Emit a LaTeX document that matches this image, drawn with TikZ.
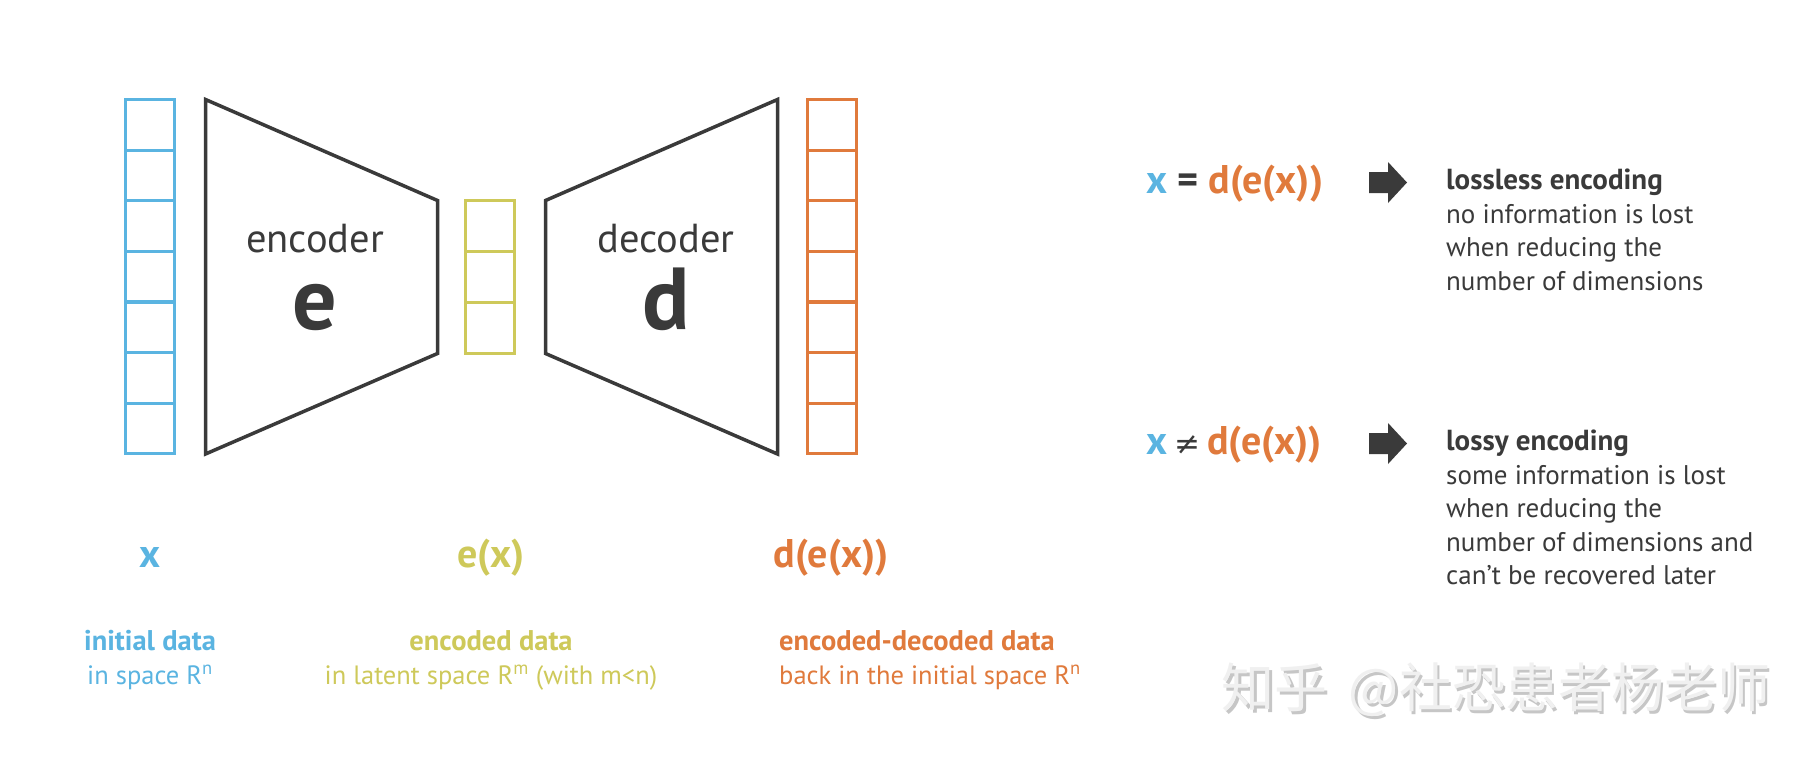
\documentclass[tikz,border=0pt]{standalone}
\usepackage{fontspec}
\setmainfont{PT Sans}
\newfontfamily\cjk{Noto Sans CJK SC}
\newfontfamily\djv{DejaVu Sans}
\definecolor{cblue}{HTML}{5AB4E1}
\definecolor{cyel}{HTML}{CEC95A}
\definecolor{corg}{HTML}{E07A3C}
\definecolor{cdark}{HTML}{3A3A3A}
\begin{document}
\begin{tikzpicture}[x=1pt,y=-1pt,
  cell/.style={draw=#1, line width=3pt, minimum width=49pt, minimum height=50.8pt, inner sep=0pt},
  trap/.style={draw=cdark, line width=3.5pt, line join=miter},
  lbl/.style={inner sep=0pt, anchor=base},
  lblw/.style={inner sep=0pt, anchor=base west},
  big/.style={font=\fontsize{40}{44}\selectfont\bfseries},
  sub/.style={font=\fontsize{28.5}{32}\selectfont\bfseries},
  subr/.style={font=\fontsize{26.5}{30}\selectfont},
  desc/.style={anchor=north west, inner sep=0pt, align=left, text=cdark, font=\fontsize{27}{33.5}\selectfont},
  blockarrow/.style={fill=cdark},
  ]
\fill[white] (0,0) rectangle (1815,764);
\useasboundingbox (0,0) rectangle (1815,764);

% columns
\foreach \i in {0,...,6} \node[cell=cblue] (b\i) at (150,{99.5+50.6*(\i+0.5)}) {};
\foreach \i in {0,...,2} \node[cell=cyel] (y\i) at (490,{200.5+51*(\i+0.5)}) {};
\foreach \i in {0,...,6} \node[cell=corg] (o\i) at (832,{99.5+50.6*(\i+0.5)}) {};

% encoder / decoder
\coordinate (e1) at (205.5,99.5);
\coordinate (e2) at (437.5,200.5);
\coordinate (e3) at (437.5,353.5);
\coordinate (e4) at (205.5,454);
\draw[trap] (e1) -- (e2) -- (e3) -- (e4) -- cycle;
\coordinate (d1) at (545.5,200.5);
\coordinate (d2) at (777.5,99.5);
\coordinate (d3) at (777.5,454);
\coordinate (d4) at (545.5,353.5);
\draw[trap] (d1) -- (d2) -- (d3) -- (d4) -- cycle;

\node[lbl, text=cdark, font=\fontsize{40.5}{44}\selectfont] (enct) at (315,252) {encoder};
\node[lbl, text=cdark, font=\fontsize{88}{90}\selectfont\bfseries] (encl) at (315,329) {e};
\node[lbl, text=cdark, font=\fontsize{40.5}{44}\selectfont] (dect) at (666,252) {decoder};
\node[lbl, text=cdark, font=\fontsize{88}{90}\selectfont\bfseries] (decl) at (666,329) {d};

% bottom labels
\node[lbl, big, text=cblue] (xl) at (150,567) {x};
\node[lbl, big, text=cyel] (exl) at (491,567) {e(x)};
\node[lbl, big, text=corg] (dexl) at (831,567) {d(e(x))};

\node[lbl, sub, text=cblue] (i1) at (150,650) {initial data};
\node[lbl, subr, text=cblue] (i2) at (150,684) {in space R\textsuperscript{n}};
\node[lbl, sub, text=cyel] (l1) at (491,650) {encoded data};
\node[lbl, subr, text=cyel] (l2) at (491,684) {in latent space R\textsuperscript{m} (with m<n)};
\node[lblw, sub, text=corg] (r1) at (779,650) {encoded-decoded data};
\node[lblw, subr, text=corg] (r2) at (779,684) {back in the initial space R\textsuperscript{n}};

% right side
\node[lblw, big] (eq1) at (1146,193) {\textcolor{cblue}{x} \textcolor{cdark}{=} \textcolor{corg}{d(e(x))}};
\node[lblw, big] (eq2) at (1146,454) {\textcolor{cblue}{x}\hspace{-0.08em} \textcolor{cdark}{\djv\mdseries\fontsize{31}{40}\selectfont ≠}\hspace{-0.08em} \textcolor{corg}{d(e(x))}};

\coordinate (a1) at (1369,182.5);
\fill[blockarrow] (a1) ++(0,-10.5) -- ++(19,0) -- ++(0,-10) -- ++(19,20.5) -- ++(-19,20.5) -- ++(0,-10) -- ++(-19,0) -- cycle;
\coordinate (a2) at (1369,443.5);
\fill[blockarrow] (a2) ++(0,-10.5) -- ++(19,0) -- ++(0,-10) -- ++(19,20.5) -- ++(-19,20.5) -- ++(0,-10) -- ++(-19,0) -- cycle;

\node[desc] (t1) at (1446,169) {{\fontsize{29}{33.5}\selectfont\bfseries lossless encoding}\\no information is lost\\when reducing the\\number of dimensions};
\node[desc] (t2) at (1446,430) {{\fontsize{29}{33.5}\selectfont\bfseries lossy encoding}\\some information is lost\\when reducing the\\number of dimensions and\\can’t be recovered later};

% watermark
\node[font=\cjk\fontsize{53}{58}\selectfont, text=gray!45] (wms) at (1498.5,692.5) {知乎\hspace{0.4em}@社恐患者杨老师};
\node[font=\cjk\fontsize{53}{58}\selectfont, text=gray!12] (wm) at (1496,690) {知乎\hspace{0.4em}@社恐患者杨老师};
\end{tikzpicture}
\end{document}
